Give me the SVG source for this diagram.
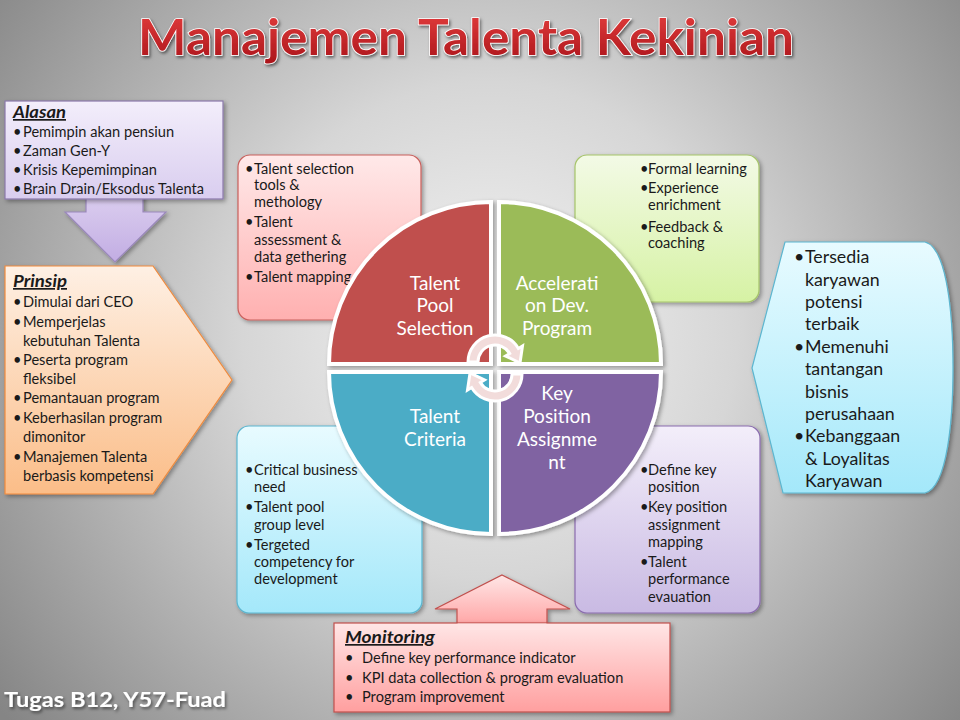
<svg xmlns="http://www.w3.org/2000/svg" width="960" height="720" viewBox="0 0 960 720">
<defs>
  <radialGradient id="bg" gradientUnits="userSpaceOnUse" cx="490" cy="330" r="620">
    <stop offset="0" stop-color="#f4f4f4"/>
    <stop offset="0.4" stop-color="#d6d6d6"/>
    <stop offset="1" stop-color="#858585"/>
  </radialGradient>
  <linearGradient id="gLav" x1="0" y1="0" x2="0" y2="1">
    <stop offset="0" stop-color="#f3eefb"/><stop offset="1" stop-color="#d9cdef"/>
  </linearGradient>
  <linearGradient id="gLavA" x1="0" y1="0" x2="0" y2="1">
    <stop offset="0" stop-color="#ddd0f0"/><stop offset="1" stop-color="#c2ade3"/>
  </linearGradient>
  <linearGradient id="gOr" x1="0" y1="0" x2="0" y2="1">
    <stop offset="0" stop-color="#fef0e4"/><stop offset="1" stop-color="#fbbd88"/>
  </linearGradient>
  <linearGradient id="gPink" x1="0" y1="0" x2="0" y2="1">
    <stop offset="0" stop-color="#ffe9e9"/><stop offset="1" stop-color="#ffb0b0"/>
  </linearGradient>
  <linearGradient id="gPink2" x1="0" y1="0" x2="0" y2="1">
    <stop offset="0" stop-color="#ffe6e6"/><stop offset="1" stop-color="#ff9f9f"/>
  </linearGradient>
  <linearGradient id="gGreen" x1="0" y1="0" x2="0" y2="1">
    <stop offset="0" stop-color="#f3fae6"/><stop offset="1" stop-color="#d6f2a4"/>
  </linearGradient>
  <linearGradient id="gBlue" x1="0" y1="0" x2="0" y2="1">
    <stop offset="0" stop-color="#e8fbff"/><stop offset="1" stop-color="#a4e8fa"/>
  </linearGradient>
  <linearGradient id="gPurp" x1="0" y1="0" x2="0" y2="1">
    <stop offset="0" stop-color="#f3eefa"/><stop offset="1" stop-color="#c9bae3"/>
  </linearGradient>
  <linearGradient id="gTitle" x1="0" y1="0" x2="0" y2="1">
    <stop offset="0" stop-color="#e8403f"/><stop offset="1" stop-color="#a8141a"/>
  </linearGradient>
  <filter id="sh" x="-10%" y="-10%" width="130%" height="130%">
    <feDropShadow dx="2" dy="2" stdDeviation="2" flood-color="#000" flood-opacity="0.35"/>
  </filter>
  <filter id="tsh" x="-5%" y="-20%" width="110%" height="150%">
    <feDropShadow dx="1.5" dy="2" stdDeviation="1.5" flood-color="#000" flood-opacity="0.5"/>
  </filter>
  <path id="cyc" d="M468,362 A27,27 0 0 1 518.4,348.5 L522.5,346 L520,363 L505.5,356 L509.7,353.5 A17,17 0 0 0 478,362 Z"/>
  <style>
    .t{font-family:Lato,"Liberation Sans",sans-serif;font-size:14.6px;fill:#1a1a1a}
    .h{font-weight:bold;font-style:italic;text-decoration:underline;font-size:17px}
    .pl{font-family:Lato,"Liberation Sans",sans-serif;font-size:19px;fill:#ffffff;text-anchor:middle}
    .bg17{font-size:17.8px}
    .box{stroke-width:1.2;filter:url(#sh)}
    .sec{stroke:#ffffff;stroke-width:4;filter:url(#sh)}
  </style>
</defs>

<rect x="0" y="0" width="960" height="720" fill="url(#bg)"/>

<text x="466" y="55" text-anchor="middle" font-family="Lato,'Liberation Sans',sans-serif" font-weight="bold" font-size="50" textLength="656" lengthAdjust="spacingAndGlyphs" fill="url(#gTitle)" stroke="#ffffff" stroke-width="1.6" paint-order="stroke" filter="url(#tsh)">Manajemen Talenta Kekinian</text>

<g id="connectors">
  <polygon points="86,190 143,190 143,212 166,212 115,262 65,212 86,212" fill="url(#gLavA)" stroke="#9a88bb" stroke-width="1.2" filter="url(#sh)"/>
  <polygon points="502,575 570,609 547,609 547,630 457,630 457,609 435,609" fill="url(#gPink2)" stroke="#c0504d" stroke-width="1.2" filter="url(#sh)"/>
</g>

<g id="alasan">
  <rect class="box" x="5" y="101" width="218" height="98" fill="url(#gLav)" stroke="#8a78aa"/>
  <text class="t h" x="13" y="118" textLength="53" lengthAdjust="spacingAndGlyphs">Alasan</text>
  <text class="t" x="13" y="137">•</text><text class="t" x="23" y="137">Pemimpin akan pensiun</text>
  <text class="t" x="13" y="156">•</text><text class="t" x="23" y="156">Zaman Gen-Y</text>
  <text class="t" x="13" y="175">•</text><text class="t" x="23" y="175">Krisis Kepemimpinan</text>
  <text class="t" x="13" y="194">•</text><text class="t" x="23" y="194">Brain Drain/Eksodus Talenta</text>
</g>

<g id="prinsip">
  <polygon class="box" points="5,266 153,266 232,380 153,494 5,494" fill="url(#gOr)" stroke="#f08a3c"/>
  <text class="t h" x="13" y="287" textLength="54" lengthAdjust="spacingAndGlyphs">Prinsip</text>
  <text class="t" x="13" y="307">•</text><text class="t" x="23" y="307">Dimulai dari CEO</text>
  <text class="t" x="13" y="327">•</text><text class="t" x="23" y="327">Memperjelas</text>
  <text class="t" x="23" y="346">kebutuhan  Talenta</text>
  <text class="t" x="13" y="365">•</text><text class="t" x="23" y="365">Peserta program</text>
  <text class="t" x="23" y="384">fleksibel</text>
  <text class="t" x="13" y="403">•</text><text class="t" x="23" y="403">Pemantauan program</text>
  <text class="t" x="13" y="423">•</text><text class="t" x="23" y="423">Keberhasilan program</text>
  <text class="t" x="23" y="442">dimonitor</text>
  <text class="t" x="13" y="462">•</text><text class="t" x="23" y="462">Manajemen Talenta</text>
  <text class="t" x="23" y="481">berbasis kompetensi</text>
</g>

<g id="selection-box">
  <rect class="box" x="238" y="155" width="183" height="165" rx="12" fill="url(#gPink)" stroke="#c8605c"/>
  <text class="t" x="245" y="174">•</text><text class="t" x="254" y="174">Talent selection</text>
  <text class="t" x="254" y="190">tools &amp;</text>
  <text class="t" x="254" y="207">methology</text>
  <text class="t" x="245" y="227">•</text><text class="t" x="254" y="227">Talent</text>
  <text class="t" x="254" y="245">assessment &amp;</text>
  <text class="t" x="254" y="262">data gethering</text>
  <text class="t" x="245" y="282">•</text><text class="t" x="254" y="282">Talent mapping</text>
</g>

<g id="acceleration-box">
  <rect class="box" x="575" y="155" width="184" height="147" rx="12" fill="url(#gGreen)" stroke="#a6c46a"/>
  <text class="t" x="640" y="174">•</text><text class="t" x="648" y="174">Formal  learning</text>
  <text class="t" x="640" y="193">•</text><text class="t" x="648" y="193">Experience</text>
  <text class="t" x="648" y="210">enrichment</text>
  <text class="t" x="640" y="232">•</text><text class="t" x="648" y="232">Feedback &amp;</text>
  <text class="t" x="648" y="248">coaching</text>
</g>

<g id="criteria-box">
  <rect class="box" x="237" y="426" width="185" height="187" rx="12" fill="url(#gBlue)" stroke="#5cb6d0"/>
  <text class="t" x="245" y="475">•</text><text class="t" x="254" y="475">Critical business</text>
  <text class="t" x="254" y="492">need</text>
  <text class="t" x="245" y="512">•</text><text class="t" x="254" y="512">Talent pool</text>
  <text class="t" x="254" y="530">group  level</text>
  <text class="t" x="245" y="550">•</text><text class="t" x="254" y="550">Tergeted</text>
  <text class="t" x="254" y="567">competency for</text>
  <text class="t" x="254" y="584">development</text>
</g>

<g id="assignment-box">
  <rect class="box" x="575" y="426" width="185" height="187" rx="12" fill="url(#gPurp)" stroke="#8a6cae"/>
  <text class="t" x="640" y="475">•</text><text class="t" x="648" y="475">Define key</text>
  <text class="t" x="648" y="492">position</text>
  <text class="t" x="640" y="512">•</text><text class="t" x="648" y="512">Key position</text>
  <text class="t" x="648" y="530">assignment</text>
  <text class="t" x="648" y="547">mapping</text>
  <text class="t" x="640" y="567">•</text><text class="t" x="648" y="567">Talent</text>
  <text class="t" x="648" y="584">performance</text>
  <text class="t" x="648" y="602">evauation</text>
</g>

<g id="talent-pool-selection">
  <path class="sec" d="M329,364 A162,162 0 0 1 491,202 L491,364 Z" fill="#c0504d"/>
  <text class="pl" x="435" y="290">Talent</text>
  <text class="pl" x="435" y="312">Pool</text>
  <text class="pl" x="435" y="335">Selection</text>
</g>
<g id="acceleration-program">
  <path class="sec" d="M499,202 A162,162 0 0 1 661,364 L499,364 Z" fill="#9bbb59"/>
  <text class="pl" x="557" y="290">Accelerati</text>
  <text class="pl" x="557" y="312">on Dev.</text>
  <text class="pl" x="557" y="335">Program</text>
</g>
<g id="key-position-assignment">
  <path class="sec" d="M661,372 A162,162 0 0 1 499,534 L499,372 Z" fill="#8064a2"/>
  <text class="pl" x="557" y="400">Key</text>
  <text class="pl" x="557" y="423">Position</text>
  <text class="pl" x="557" y="446">Assignme</text>
  <text class="pl" x="557" y="469">nt</text>
</g>
<g id="talent-criteria">
  <path class="sec" d="M491,534 A162,162 0 0 1 329,372 L491,372 Z" fill="#4bacc6"/>
  <text class="pl" x="435" y="423">Talent</text>
  <text class="pl" x="435" y="446">Criteria</text>
</g>

<g id="cycle-arrows">
  <use href="#cyc" fill="#f2dcdb" stroke="#ffffff" stroke-width="3"/>
  <use href="#cyc" transform="rotate(180 495 368)" fill="#f2dcdb" stroke="#ffffff" stroke-width="3"/>
</g>

<g id="outcomes">
  <path class="box" d="M785,242 L925,242 C948,248 953,320 953,368 C953,416 948,487 925,493 L783,493 L752,368 Z" fill="url(#gBlue)" stroke="#5cb6d0"/>
  <text class="t bg17" x="794" y="263">•</text><text class="t bg17" x="805" y="263">Tersedia</text>
  <text class="t bg17" x="805" y="286">karyawan</text>
  <text class="t bg17" x="805" y="308">potensi</text>
  <text class="t bg17" x="805" y="330">terbaik</text>
  <text class="t bg17" x="794" y="353">•</text><text class="t bg17" x="805" y="353">Memenuhi</text>
  <text class="t bg17" x="805" y="375">tantangan</text>
  <text class="t bg17" x="805" y="398">bisnis</text>
  <text class="t bg17" x="805" y="420">perusahaan</text>
  <text class="t bg17" x="794" y="442">•</text><text class="t bg17" x="805" y="442">Kebanggaan</text>
  <text class="t bg17" x="805" y="465">&amp; Loyalitas</text>
  <text class="t bg17" x="805" y="487">Karyawan</text>
</g>

<g id="monitoring">
  <rect class="box" x="334" y="623" width="336" height="89" fill="url(#gPink2)" stroke="#c0504d"/>
  <polygon points="457.6,623.6 546.4,623.6 546.4,630 457.6,630" fill="#ffe4e4"/>
  <text class="t h" x="345" y="643" textLength="90" lengthAdjust="spacingAndGlyphs">Monitoring</text>
  <text class="t" x="345" y="663">•</text><text class="t" x="362" y="663">Define key performance indicator</text>
  <text class="t" x="345" y="683">•</text><text class="t" x="362" y="683">KPI data collection &amp; program evaluation</text>
  <text class="t" x="345" y="702">•</text><text class="t" x="362" y="702">Program improvement</text>
</g>

<text x="4" y="707" font-family="Lato,'Liberation Sans',sans-serif" font-weight="bold" font-size="21" textLength="222" lengthAdjust="spacingAndGlyphs" fill="#ffffff" filter="url(#tsh)">Tugas B12, Y57-Fuad</text>
</svg>
